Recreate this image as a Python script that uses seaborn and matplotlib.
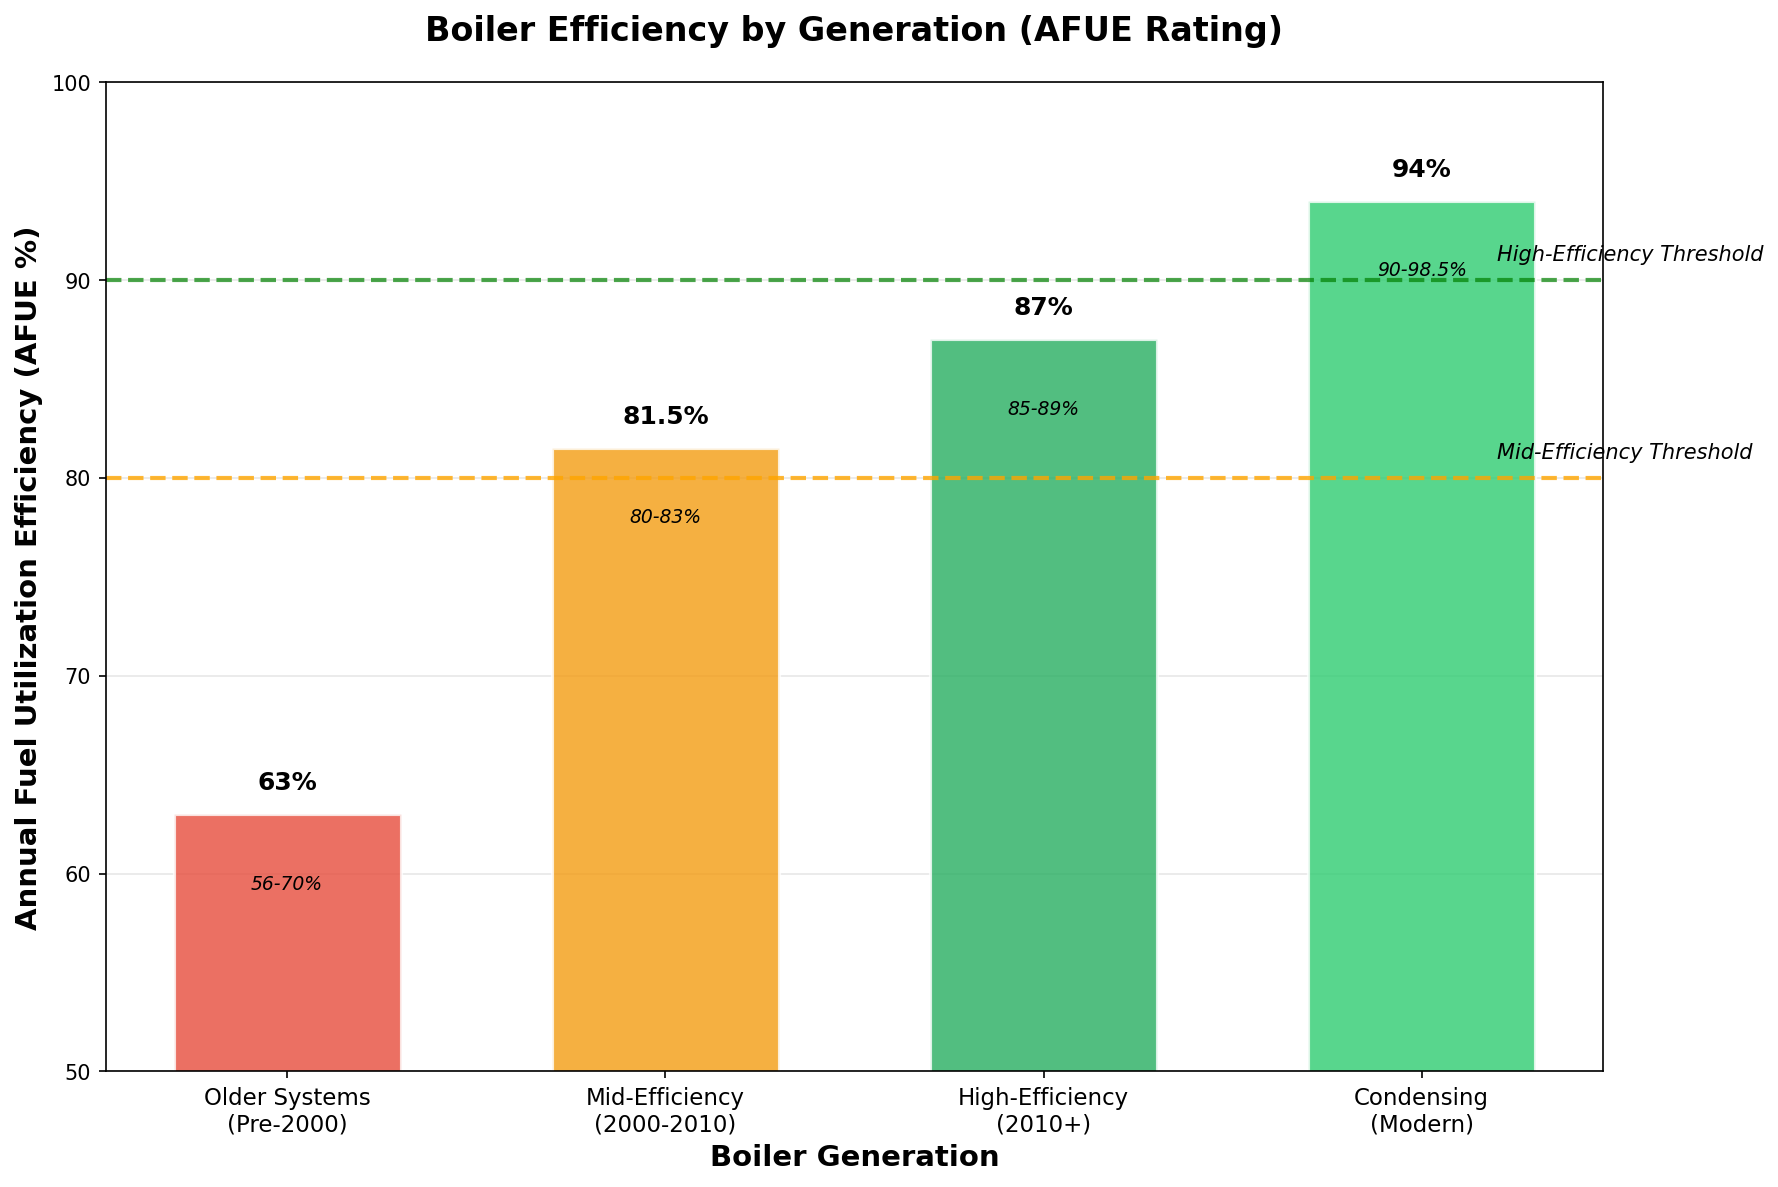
import matplotlib
matplotlib.use('Agg')
import matplotlib.pyplot as plt
import seaborn as sns
import pandas as pd

sns.set_style('ticks', rc={'axes.edgecolor': 'black', 'text.color': 'black',
                           'axes.labelcolor': 'black', 'xtick.color': 'black',
                           'ytick.color': 'black', 'grid.color': '#b0b0b0'})
plt.rcParams['font.family'] = ['DejaVu Sans']

# dati
generations = ['Older Systems\n(Pre-2000)', 'Mid-Efficiency\n(2000-2010)',
               'High-Efficiency\n(2010+)', 'Condensing\n(Modern)']
afue = [63, 81.5, 87, 94]
value_labels = ['63%', '81.5%', '87%', '94%']
ranges = ['56-70%', '80-83%', '85-89%', '90-98.5%']
colors = ['#e74c3c', '#f39c12', '#27ae60', '#2ecc71']
mid_threshold = 80
high_threshold = 90

df = pd.DataFrame({'generation': generations, 'afue': afue})

fig, ax = plt.subplots(figsize=(12, 8))
sns.barplot(data=df, x='generation', y='afue', hue='generation', palette=colors,
            legend=False, width=0.6, saturation=1, alpha=0.8,
            edgecolor='white', linewidth=1.5, ax=ax)

# etichette sopra e dentro le barre
for i, (h, lab, rng) in enumerate(zip(afue, value_labels, ranges)):
    ax.text(i, h + 1, lab, ha='center', va='bottom', fontsize=12, fontweight='bold')
    ax.text(i, h - 3.5, rng, ha='center', va='center', fontsize=9, style='italic')

# soglie
ax.axhline(high_threshold, color='green', linestyle='--', linewidth=2, alpha=0.7)
ax.axhline(mid_threshold, color='orange', linestyle='--', linewidth=2, alpha=0.8)
ax.text(3.2, high_threshold + 1, 'High-Efficiency Threshold', fontsize=10, style='italic')
ax.text(3.2, mid_threshold + 1, 'Mid-Efficiency Threshold', fontsize=10, style='italic')

ax.set_xlim(-0.48, 3.48)
ax.set_ylim(50, 100)
ax.set_title('Boiler Efficiency by Generation (AFUE Rating)', fontsize=16,
             fontweight='bold', pad=20)
ax.set_xlabel('Boiler Generation', fontsize=14, fontweight='bold')
ax.set_ylabel('Annual Fuel Utilization Efficiency (AFUE %)', fontsize=14, fontweight='bold')
ax.tick_params(axis='x', labelsize=11)
ax.tick_params(axis='y', labelsize=10)
ax.yaxis.grid(True, alpha=0.3)
ax.set_axisbelow(True)

plt.tight_layout()
plt.savefig('out.png', dpi=150, bbox_inches='tight')
